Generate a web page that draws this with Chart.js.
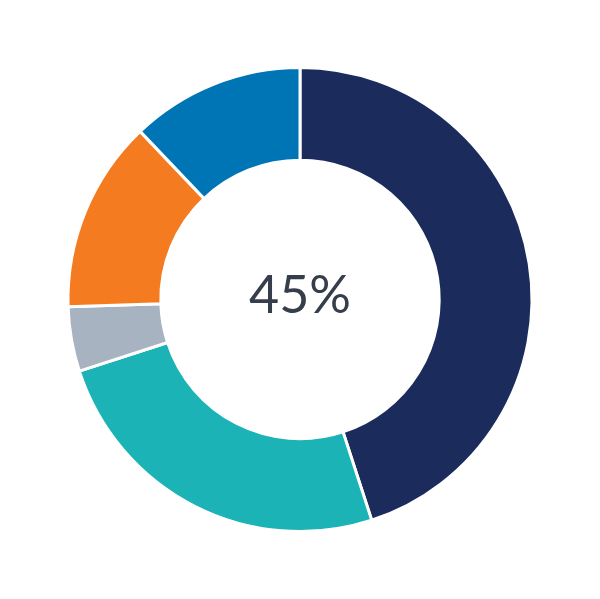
<!DOCTYPE html>
<html lang="en">
<head>
    <meta charset="UTF-8">
    <title>Doughnut</title>
    <style>
        html, body { margin: 0; padding: 0; background: #fff; }
        .wrap { position: relative; width: 600px; height: 599px; }
        .center-label {
            position: absolute; left: 0; top: 267px; width: 600px;
            text-align: center; font-family: Lato, sans-serif;
            font-size: 52px; line-height: 52px; color: #353e4a;
        }
    </style>
</head>
<body>
    <div class="wrap">
        <canvas id="myChart" width="600" height="599"></canvas>
        <div class="center-label" id="centerLabel"></div>
    </div>
    <script src="https://cdn.jsdelivr.net/npm/chart.js@4/dist/chart.umd.min.js"></script>
    <script>
        // segments, clockwise from 12 o'clock
        var labels = ["Navy", "Teal", "Gray", "Orange", "Blue"];
        var values = [45, 25, 4.5, 13.4, 12.1];
        var colors = ["#1b2b5c", "#1bb3b6", "#a7b3c1", "#f47b20", "#0075b6"];
        var centerText = "45%";

        document.getElementById("centerLabel").textContent = centerText;

        var ctx = document.getElementById("myChart").getContext("2d");
        var chart = new Chart(ctx, {
            type: "doughnut",
            data: {
                labels: labels,
                datasets: [{
                    data: values,
                    backgroundColor: colors,
                    borderColor: "#ffffff",
                    borderWidth: 3
                }]
            },
            options: {
                responsive: false,
                animation: false,
                cutout: "60%",
                layout: { padding: 66 },
                plugins: {
                    legend: { display: false },
                    tooltip: { enabled: false }
                }
            }
        });
    </script>
</body>
</html>
